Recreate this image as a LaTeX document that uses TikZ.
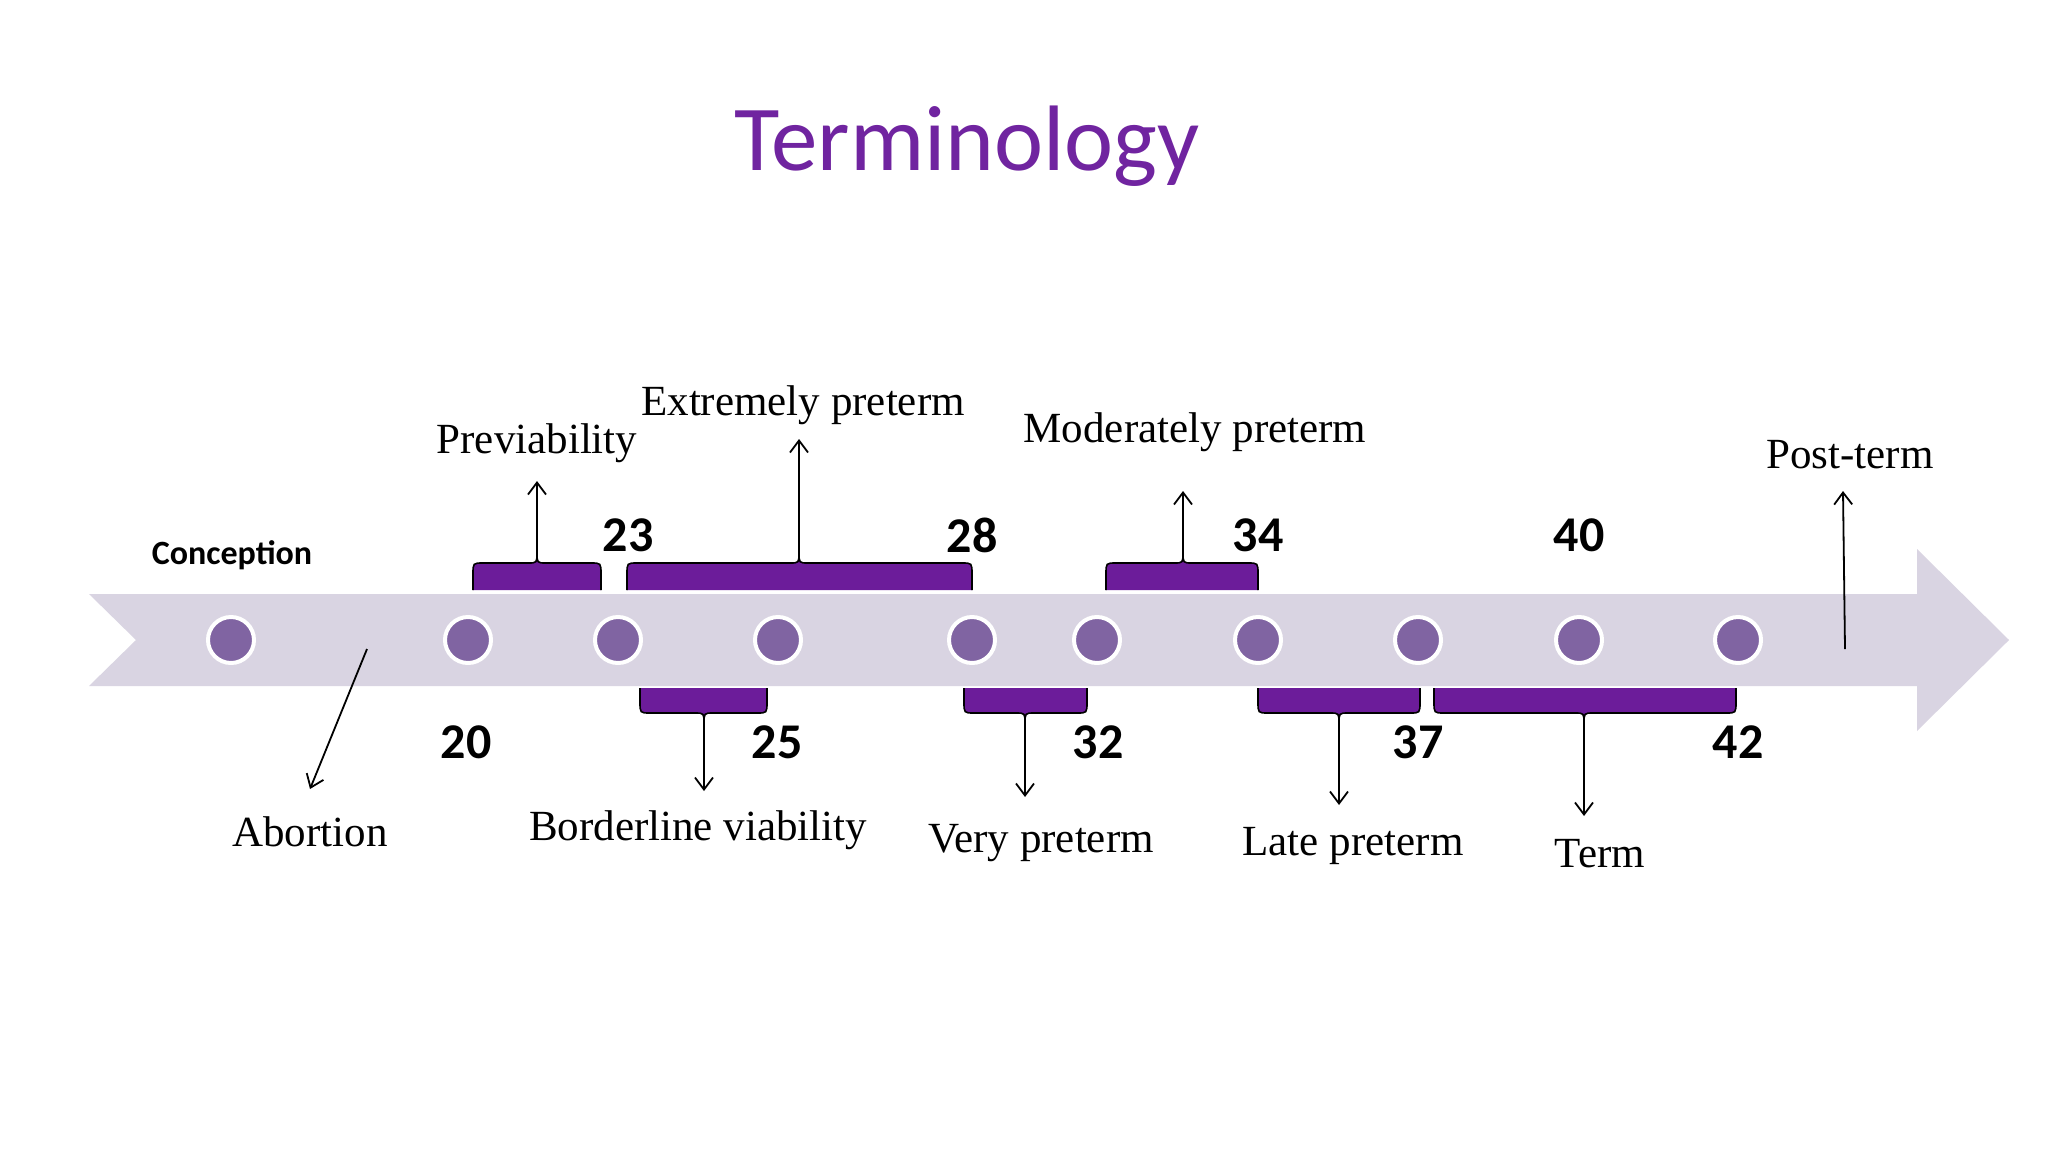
\documentclass[tikz,border=0pt]{standalone}
\usepackage{fontspec}
\setmainfont{Liberation Serif}
\newfontfamily\calib{Carlito}
\usetikzlibrary{arrows.meta}
\definecolor{bandc}{RGB}{217,212,226}
\definecolor{dotc}{RGB}{128,100,162}
\definecolor{brk}{RGB}{108,28,154}
\definecolor{titlec}{RGB}{112,36,160}
\tikzset{
  dot/.style={circle, minimum size=46pt, inner sep=0pt, fill=dotc, draw=white, line width=4pt},
  lbl/.style={inner sep=0pt, font=\fontsize{43}{50}\selectfont},
  num/.style={inner sep=0pt, font=\calib\bfseries\fontsize{50}{58}\selectfont},
  ptr/.style={draw=black, line width=1.8pt, -{Straight Barb[length=12pt,width=18pt,line width=1.8pt]}},
  brkfill/.style={fill=brk},
  brkline/.style={draw=black, line width=1.6pt}
}
% top bracket: #1 left x, #2 right x, #3 stem x, name of cusp coordinate #4
\newcommand{\topbrk}[4]{%
  \fill[brkfill] (#1,590) -- (#1,574) .. controls (#1,563) .. (#1+10,563) -- (#3-9,563) .. controls (#3,563) .. (#3,552) .. controls (#3,563) .. (#3+9,563) -- (#2-10,563) .. controls (#2,563) .. (#2,574) -- (#2,590) -- cycle;
  \draw[brkline] (#1,590) -- (#1,574) .. controls (#1,563) .. (#1+10,563) -- (#3-9,563) .. controls (#3,563) .. (#3,552) .. controls (#3,563) .. (#3+9,563) -- (#2-10,563) .. controls (#2,563) .. (#2,574) -- (#2,590);
  \coordinate (#4) at (#3,552);
}
\newcommand{\botbrk}[4]{%
  \fill[brkfill] (#1,688) -- (#1,702) .. controls (#1,713) .. (#1+10,713) -- (#3-9,713) .. controls (#3,713) .. (#3,724) .. controls (#3,713) .. (#3+9,713) -- (#2-10,713) .. controls (#2,713) .. (#2,702) -- (#2,688) -- cycle;
  \draw[brkline] (#1,688) -- (#1,702) .. controls (#1,713) .. (#1+10,713) -- (#3-9,713) .. controls (#3,713) .. (#3,724) .. controls (#3,713) .. (#3+9,713) -- (#2-10,713) .. controls (#2,713) .. (#2,702) -- (#2,688);
  \coordinate (#4) at (#3,724);
}
\begin{document}
\begin{tikzpicture}[x=1pt,y=-1pt]
\useasboundingbox[fill=white] (0,0) rectangle (2048,1152);
% title
\node[inner sep=0pt, text=titlec, font=\calib\fontsize{93}{100}\selectfont] (title) at (967,146) {Terminology};
% band arrow
\fill[bandc] (89,594) -- (1917,594) -- (1917,549) -- (2009,640) -- (1917,731) -- (1917,686) -- (89,686) -- (136,640) -- cycle;
% brackets
\topbrk{473}{601}{537}{cprev}
\topbrk{627}{972}{799}{cext}
\topbrk{1106}{1258}{1183}{cmod}
\botbrk{640}{767}{704}{cbord}
\botbrk{964}{1087}{1025}{cvery}
\botbrk{1258}{1420}{1339}{clate}
\botbrk{1434}{1736}{1584}{cterm}
% dots
\foreach \x [count=\i] in {231,468,618,778,972,1097,1258,1418,1579,1738}
  \node[dot] (d\i) at (\x,640) {};
% numbers
\node[num] (n23) at (628,535) {23};
\node[num] (n28) at (972,535) {28};
\node[num] (n34) at (1258,535) {34};
\node[num] (n40) at (1579,535) {40};
\node[num] (n20) at (466,742) {20};
\node[num] (n25) at (777,742) {25};
\node[num] (n32) at (1098,742) {32};
\node[num] (n37) at (1418,742) {37};
\node[num] (n42) at (1738,742) {42};
\node[inner sep=0pt, font=\calib\bfseries\fontsize{34}{40}\selectfont] (concep) at (232,555) {Conception};
% labels
\node[lbl] (prev) at (537,443) {Previability};
\node[lbl] (ext) at (803,405) {Extremely preterm};
\node[lbl] (mod) at (1195,432) {Moderately preterm};
\node[lbl] (post) at (1850,455) {Post-term};
\node[lbl] (abort) at (310,832) {Abortion};
\node[lbl] (bord) at (698,830) {Borderline viability};
\node[lbl] (very) at (1041,843) {Very preterm};
\node[lbl] (late) at (1353,846) {Late preterm};
\node[lbl] (term) at (1600,854) {Term};
% arrow ends
\coordinate (tprev) at (537,481);
\coordinate (text) at (799,439);
\coordinate (tmod) at (1183,491);
\coordinate (spost) at (1845,649);
\coordinate (tpost) at (1843,491);
\coordinate (sabort) at (367,649);
\coordinate (tabort) at (310,789);
\coordinate (tbord) at (704,791);
\coordinate (tvery) at (1025,797);
\coordinate (tlate) at (1339,805);
\coordinate (tterm) at (1584,816);
% arrows
\draw[ptr] (cprev) -- (tprev);
\draw[ptr] (cext) -- (text);
\draw[ptr] (cmod) -- (tmod);
\draw[ptr] (spost) -- (tpost);
\draw[ptr] (sabort) -- (tabort);
\draw[ptr] (cbord) -- (tbord);
\draw[ptr] (cvery) -- (tvery);
\draw[ptr] (clate) -- (tlate);
\draw[ptr] (cterm) -- (tterm);
\end{tikzpicture}
\end{document}
